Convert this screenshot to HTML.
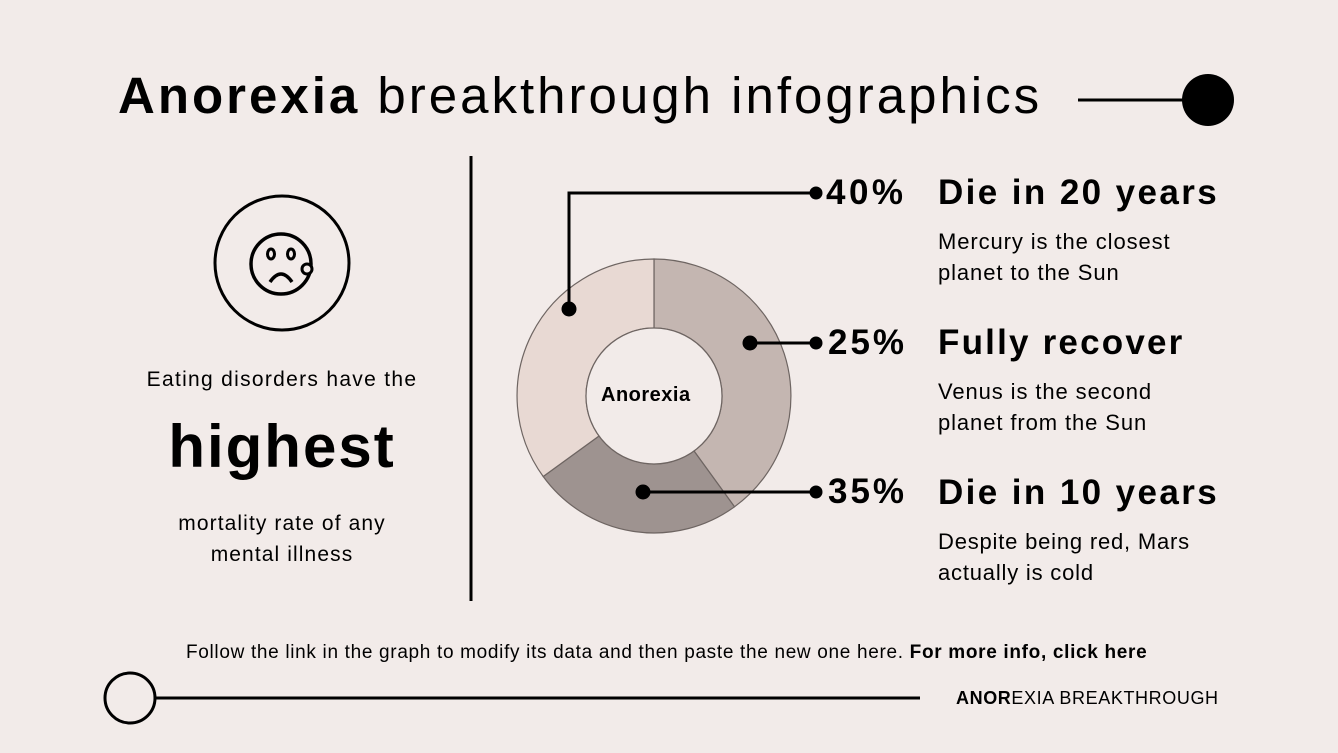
<!DOCTYPE html>
<html><head><meta charset="utf-8"><style>
body{margin:0;width:1338px;height:753px;background:#f2ebe9;font-family:"Liberation Sans",sans-serif;color:#000;position:relative;overflow:hidden}
.a{position:absolute;white-space:nowrap}
</style></head><body>
<div class="a" style="left:118px;top:66px;font-size:51px;line-height:60px;letter-spacing:3px"><b>Anorexia</b> breakthrough infographics</div>
<svg class="a" style="left:0;top:0" width="1338" height="753">
<line x1="1078" y1="100" x2="1190" y2="100" stroke="#000" stroke-width="3"/>
<circle cx="1208" cy="100" r="26" fill="#000"/>
<line x1="471" y1="156" x2="471" y2="601" stroke="#000" stroke-width="3"/>
<circle cx="282" cy="263" r="67" fill="none" stroke="#000" stroke-width="3"/>
<circle cx="281" cy="264" r="30" fill="none" stroke="#000" stroke-width="3.5"/>
<ellipse cx="271" cy="254" rx="3.5" ry="5" fill="none" stroke="#000" stroke-width="3"/>
<ellipse cx="291" cy="254" rx="3.5" ry="5" fill="none" stroke="#000" stroke-width="3"/>
<path d="M270 282 Q281 266 292 282" fill="none" stroke="#000" stroke-width="3.5"/>
<circle cx="307" cy="269" r="5" fill="#f2ebe9" stroke="#000" stroke-width="3"/>
<g stroke="#6e6562" stroke-width="1.2">
<path d="M654 259 A137 137 0 0 1 734.5 506.8 L694 451 A68 68 0 0 0 654 328 Z" fill="#c4b6b1"/>
<path d="M734.5 506.8 A137 137 0 0 1 543.2 476.5 L599 436 A68 68 0 0 0 694 451 Z" fill="#9e9390"/>
<path d="M543.2 476.5 A137 137 0 0 1 654 259 L654 328 A68 68 0 0 0 599 436 Z" fill="#e8d9d3"/>
<circle cx="654" cy="396" r="68" fill="#f2ebe9"/>
</g>
<g stroke="#000" stroke-width="3" fill="#000">
<polyline points="569,309 569,193 816,193" fill="none"/><circle cx="569" cy="309" r="6"/><circle cx="816" cy="193" r="5"/>
<line x1="750" y1="343" x2="816" y2="343"/><circle cx="750" cy="343" r="6"/><circle cx="816" cy="343" r="5"/>
<line x1="643" y1="492" x2="816" y2="492"/><circle cx="643" cy="492" r="6"/><circle cx="816" cy="492" r="5"/>
<line x1="156" y1="698" x2="920" y2="698"/>
</g>
<circle cx="130" cy="698" r="25" fill="none" stroke="#000" stroke-width="3"/>
</svg>
<div class="a" style="left:601px;top:384px;font-size:20px;font-weight:bold;letter-spacing:0.5px">Anorexia</div>
<div class="a" style="left:0;width:564px;text-align:center;top:368px;font-size:21px;letter-spacing:1.3px">Eating disorders have the</div>
<div class="a" style="left:0;width:564px;text-align:center;top:412px;font-size:60px;font-weight:bold;letter-spacing:2px">highest</div>
<div class="a" style="left:0;width:564px;text-align:center;top:508px;font-size:21px;line-height:31px;letter-spacing:1.1px">mortality rate of any<br>mental illness</div>
<div class="a" style="left:826px;top:173px;font-size:35px;font-weight:bold;letter-spacing:3.5px">40%</div>
<div class="a" style="left:828px;top:323px;font-size:35px;font-weight:bold;letter-spacing:3px">25%</div>
<div class="a" style="left:828px;top:472px;font-size:35px;font-weight:bold;letter-spacing:3px">35%</div>
<div class="a" style="left:938px;top:173px;font-size:35px;font-weight:bold;letter-spacing:2.4px">Die in 20 years</div>
<div class="a" style="left:938px;top:226px;font-size:22px;line-height:31px;letter-spacing:0.9px">Mercury is the closest<br>planet to the Sun</div>
<div class="a" style="left:938px;top:323px;font-size:35px;font-weight:bold;letter-spacing:2.2px">Fully recover</div>
<div class="a" style="left:938px;top:376px;font-size:22px;line-height:31px;letter-spacing:0.9px">Venus is the second<br>planet from the Sun</div>
<div class="a" style="left:938px;top:473px;font-size:35px;font-weight:bold;letter-spacing:2.4px">Die in 10 years</div>
<div class="a" style="left:938px;top:526px;font-size:22px;line-height:31px;letter-spacing:0.8px">Despite being red, Mars<br>actually is cold</div>
<div class="a" style="left:186px;top:642px;font-size:19px;letter-spacing:0.68px">Follow the link in the graph to modify its data and then paste the new one here. <b>For more info, click here</b></div>
<div class="a" style="left:956px;top:688px;font-size:18px;letter-spacing:0.6px"><b>ANOR</b>EXIA BREAKTHROUGH</div>
</body></html>
